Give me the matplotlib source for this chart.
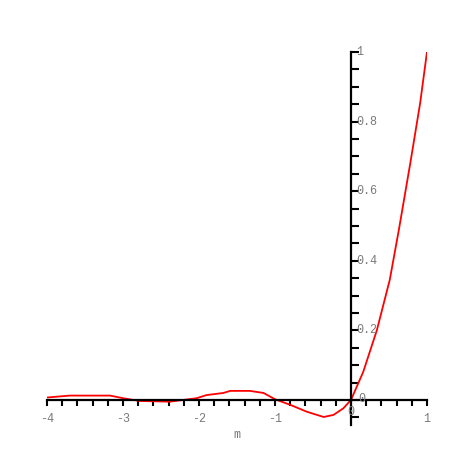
import numpy as np
import matplotlib
matplotlib.use("Agg")
from matplotlib import pyplot as plt

# values
m_vals = [-4.0, -3.7, -3.17, -3.0, -2.78, -2.38, -2.21, -2.03, -1.9, -1.68, -1.59,
          -1.33, -1.15, -1.0, -0.8, -0.58, -0.36, -0.23, -0.1, 0.0, 0.16, 0.34,
          0.51, 0.63, 0.78, 0.91, 1.0]
f_vals = [0.007, 0.0125, 0.0125, 0.005, -0.003, -0.005, 0.0, 0.005, 0.014, 0.02, 0.026,
          0.026, 0.02, 0.002, -0.014, -0.034, -0.049, -0.043, -0.024, 0.0, 0.08, 0.2,
          0.345, 0.489, 0.68, 0.853, 1.0]
x_ticks = [-4, -3, -2, -1, 1]
x_labels = ["-4", "-3", "-2", "-1", "1"]
y_ticks = [0.2, 0.4, 0.6, 0.8, 1.0]
y_labels = ["0.2", "0.4", "0.6", "0.8", "1"]

fig = plt.figure(figsize=(4.74, 4.74), dpi=100)
ax = fig.add_axes([0.0992, 0.1034, 0.8016, 0.7869])
ax.plot(m_vals, f_vals, color="red", lw=1.3)
ax.set_xlim(-4, 1)
ax.set_ylim(-0.072, 1.0)

for s in ["top", "right"]:
    ax.spines[s].set_visible(False)
ax.spines["left"].set_position(("data", 0))
ax.spines["bottom"].set_position(("data", 0))
ax.spines["left"].set_linewidth(1.6)
ax.spines["bottom"].set_linewidth(1.6)

ax.set_xticks(np.arange(-4, 1.01, 0.2))
ax.set_yticks(np.arange(-0.05, 1.001, 0.05))
ax.set_xticklabels([])
ax.set_yticklabels([])
ax.tick_params(axis="x", direction="out", length=4, width=1.5)
ax.tick_params(axis="y", direction="in", length=6, width=1.5)

font = dict(family="Liberation Mono", fontsize=8.5, color="#7a7a7a")
for t, lab in zip(x_ticks, x_labels):
    ax.annotate(lab, (t, 0), xytext=(0, -14), textcoords="offset points",
                ha="center", va="center", **font)
for t, lab in zip(y_ticks, y_labels):
    ax.annotate(lab, (0, t), xytext=(4, 0), textcoords="offset points",
                ha="left", va="center", **font)
ax.annotate("0", (0, 0), xytext=(0, -9), textcoords="offset points",
            ha="center", va="center", **font)
ax.annotate("0", (0, 0), xytext=(5, 1), textcoords="offset points",
            ha="left", va="center", **font)
ax.text(-1.5, -0.1, "m", ha="center", va="center", **font)

fig.savefig("out.png", dpi=100)
